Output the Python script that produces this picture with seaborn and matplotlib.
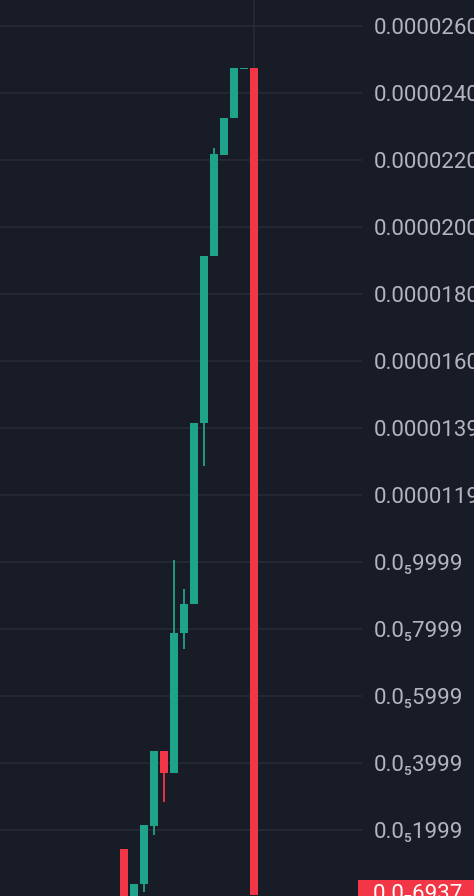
import matplotlib
matplotlib.use("Agg")
import matplotlib.pyplot as plt
import matplotlib.transforms as mtransforms
import seaborn as sns

# candle data, prices in units of 1e-6
opens = [1.433, 0.01, 0.388, 2.134, 4.358, 3.693, 7.87, 8.746, 14.14, 19.134, 22.149, 23.245, 24.73, 24.746]
highs = [1.433, 0.388, 2.149, 4.358, 4.358, 10.06, 9.185, 14.149, 19.143, 22.349, 23.263, 24.755, 24.76, 24.75]
lows = [0.01, 0.01, 0.164, 1.851, 2.845, 3.693, 7.394, 8.746, 12.866, 19.134, 22.149, 23.245, 24.72, 0.0694]
closes = [0.01, 0.388, 2.149, 4.358, 3.693, 7.881, 8.746, 14.149, 19.143, 22.179, 23.263, 24.755, 24.755, 0.0694]

# price scale
tick_values = [26, 24, 22, 20, 18, 16, 14, 12, 10, 8, 6, 4, 2]
tick_labels = ["0.0000260", "0.0000240", "0.0000220", "0.0000200", "0.0000180",
               "0.0000160", "0.0000139", "0.0000119", "0.0₅9999", "0.0₅7999",
               "0.0₅5999", "0.0₅3999", "0.0₅1999"]
last_label = "0.0₇6937"

bg = "#181c27"
grid = "#262a35"
up = "#1fa38a"
down = "#f23645"

sns.set_style("dark")
plt.rcParams['font.family'] = ['Roboto', 'DejaVu Sans']

fig = plt.figure(figsize=(4.74, 8.96), dpi=100, facecolor=bg)
ax = fig.add_axes([0, 0, 362 / 474, 1])
ax.set_facecolor(bg)

# horizontal grid + one vertical line
for v in tick_values:
    ax.axhline(v, color=grid, lw=1.3, zorder=0)
ax.axvline(13, color=grid, lw=1.3, zorder=0)

# candles
for i in range(len(opens)):
    o, h, l, c = opens[i], highs[i], lows[i], closes[i]
    col = up if c >= o else down
    ax.vlines(i, l, h, color=col, lw=1.3, zorder=2)
    body = max(abs(c - o), 0.03)
    ax.bar(i, body, bottom=min(o, c), width=0.83, color=col, linewidth=0, zorder=3)

ax.set_xlim(-12.4, 23.8)
ax.set_ylim(0.03, 26.776)

ax.set_xticks([])
ax.yaxis.tick_right()
ax.set_yticks(tick_values)
ax.set_yticklabels(tick_labels)
ax.tick_params(axis='y', length=0, pad=8.5, labelsize=16, labelcolor="#b2b5be")
ax.grid(False)
for s in ax.spines.values():
    s.set_visible(False)

# last price label
trans = mtransforms.blended_transform_factory(ax.transAxes, ax.transData)
ax.text(1.0, closes[-1], "  " + last_label + "   ", transform=trans, ha='left', va='center',
        fontsize=16, color='white', clip_on=False,
        bbox=dict(boxstyle='square,pad=0.2', facecolor=down, edgecolor='none'))

fig.savefig("out.png", dpi=100, facecolor=bg)
